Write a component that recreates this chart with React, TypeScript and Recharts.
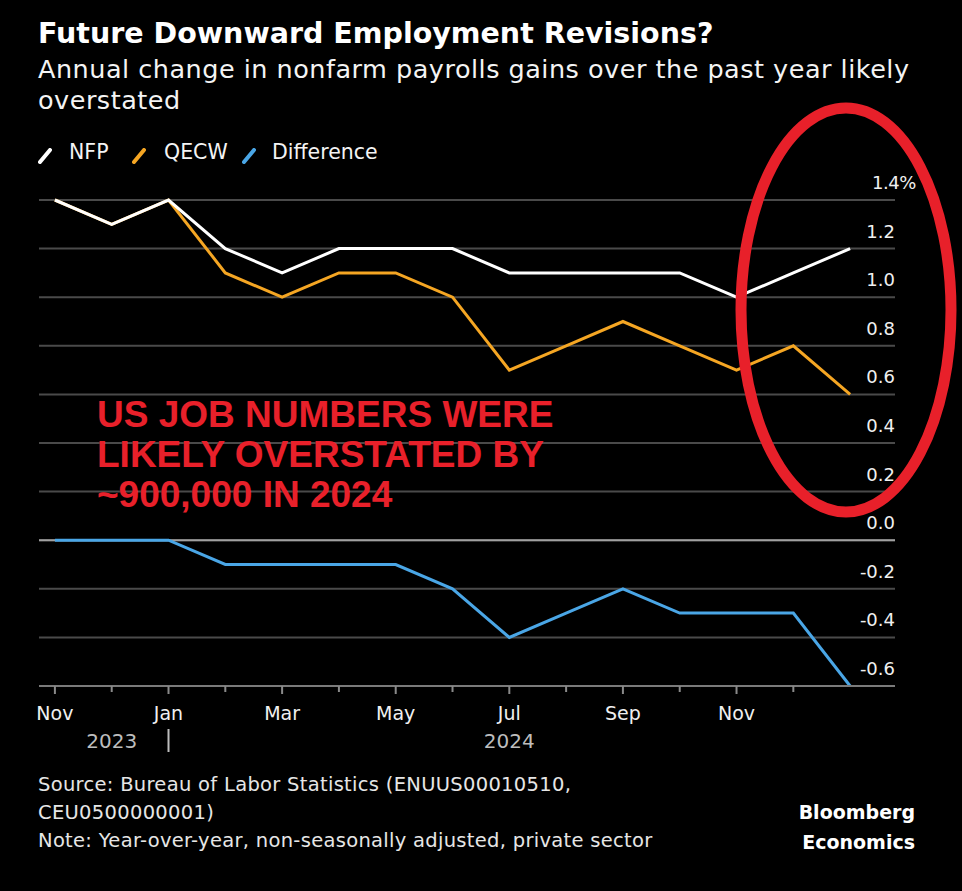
import { LineChart, Line, XAxis, YAxis, CartesianGrid, ReferenceLine } from "recharts";

// monthly points, Nov 2023 .. Jan 2025
const months = ["Nov", "Dec", "Jan", "Feb", "Mar", "Apr", "May", "Jun", "Jul", "Aug", "Sep", "Oct", "Nov", "Dec", "Jan"];
const nfp = [1.4, 1.3, 1.4, 1.2, 1.1, 1.2, 1.2, 1.2, 1.1, 1.1, 1.1, 1.1, 1.0, 1.1, 1.2];
const qcew = [1.4, 1.3, 1.4, 1.1, 1.0, 1.1, 1.1, 1.0, 0.7, 0.8, 0.9, 0.8, 0.7, 0.8, 0.6];
const difference = [0, 0, 0, -0.1, -0.1, -0.1, -0.1, -0.2, -0.4, -0.3, -0.2, -0.3, -0.3, -0.3, -0.6];

const yTicks = [-0.6, -0.4, -0.2, 0, 0.2, 0.4, 0.6, 0.8, 1.0, 1.2, 1.4];
const xTicks = [0, 1, 2, 3, 4, 5, 6, 7, 8, 9, 10, 11, 12, 13];
const yearLabels = [
  { at: 1, label: "2023" },
  { at: 8, label: "2024" },
];
const yearDivider = 2;

const data = months.map((month, i) => ({
  i,
  month,
  nfp: nfp[i],
  qcew: qcew[i],
  difference: difference[i],
}));

const WHITE = "#ffffff";
const ORANGE = "#f5a623";
const BLUE = "#4aa6e6";
const RED = "#e8202a";
const FONT = "'DejaVu Sans', Verdana, sans-serif";
const PLOT_RIGHT = 895;
const Y_AXIS_W = 60;

function YTick({ y, payload }: any) {
  const v: number = payload.value;
  const label = v === 0 ? "0.0" : v.toFixed(1);
  const isTop = v === yTicks[yTicks.length - 1];
  // top label carries the unit and hangs past the right edge
  if (isTop) {
    return (
      <text x={PLOT_RIGHT - 23} y={y - 11} fill="#f0f0f0" fontSize={18} fontFamily={FONT} letterSpacing={-0.5}>
        {label + "%"}
      </text>
    );
  }
  return (
    <text x={PLOT_RIGHT} y={y - 11} textAnchor="end" fill="#f0f0f0" fontSize={18} fontFamily={FONT}>
      {label}
    </text>
  );
}

function XTick({ x, y, payload }: any) {
  const idx: number = payload.value;
  const major = idx % 2 === 0;
  const year = yearLabels.find((d) => d.at === idx);
  return (
    <g>
      <line x1={x} x2={x} y1={y} y2={y + (major ? 8 : 6)} stroke="#8a8a8a" strokeWidth={2} />
      {major && (
        <text x={x} y={y + 34} textAnchor="middle" fill="#f0f0f0" fontSize={19} fontFamily={FONT}>
          {months[idx]}
        </text>
      )}
      {year && (
        <text x={x} y={y + 62} textAnchor="middle" fill="#bdbdbd" fontSize={20} fontFamily={FONT}>
          {year.label}
        </text>
      )}
      {idx === yearDivider && <line x1={x} x2={x} y1={y + 43} y2={y + 66} stroke="#bdbdbd" strokeWidth={2} />}
    </g>
  );
}

const legendItems = [
  { color: WHITE, label: "NFP", iconX: 40, textX: 69 },
  { color: ORANGE, label: "QECW", iconX: 134, textX: 164 },
  { color: BLUE, label: "Difference", iconX: 244, textX: 272 },
];

export default function App() {
  return (
    <div
      style={{
        position: "absolute",
        left: 0,
        top: 0,
        width: 962,
        height: 891,
        background: "#000",
        overflow: "hidden",
        fontFamily: FONT,
        color: "#f4f4f4",
      }}
    >
      <LineChart
        width={962}
        height={891}
        data={data}
        margin={{ top: 200, left: 39, right: 962 - PLOT_RIGHT - Y_AXIS_W, bottom: 145 }}
      >
        <CartesianGrid horizontal vertical={false} stroke="#4a4a4a" strokeWidth={2} />
        <XAxis
          dataKey="i"
          type="number"
          domain={[-0.28, 14.79]}
          ticks={xTicks}
          interval={0}
          height={60}
          tickSize={0}
          tickMargin={0}
          axisLine={{ stroke: "#7a7a7a", strokeWidth: 2 }}
          tickLine={false}
          tick={<XTick />}
        />
        <YAxis
          orientation="right"
          width={Y_AXIS_W}
          domain={[-0.6, 1.4]}
          ticks={yTicks}
          interval={0}
          axisLine={false}
          tickLine={false}
          tick={<YTick />}
        />
        <ReferenceLine y={0} stroke="#a0a0a0" strokeWidth={2} />
        <Line type="linear" dataKey="difference" stroke={BLUE} strokeWidth={3} dot={false} isAnimationActive={false} />
        <Line type="linear" dataKey="qcew" stroke={ORANGE} strokeWidth={3} dot={false} isAnimationActive={false} />
        <Line type="linear" dataKey="nfp" stroke={WHITE} strokeWidth={3} dot={false} isAnimationActive={false} />
      </LineChart>

      <div style={{ position: "absolute", left: 38, top: 17, fontSize: 28.5, fontWeight: 700, color: "#fff", whiteSpace: "nowrap" }}>
        Future Downward Employment Revisions?
      </div>
      <div
        style={{
          position: "absolute",
          left: 38,
          top: 54,
          width: 924,
          fontSize: 25.5,
          letterSpacing: 0.5,
          lineHeight: "31px",
          whiteSpace: "nowrap",
        }}
      >
        Annual change in nonfarm payrolls gains over the past year likely
        <br />
        overstated
      </div>
      {legendItems.map((d) => (
        <div key={d.label}>
          <svg width={14} height={16} style={{ position: "absolute", left: d.iconX - 2, top: 148 }}>
            <line x1={2} y1={14} x2={12} y2={2} stroke={d.color} strokeWidth={4} strokeLinecap="round" />
          </svg>
          <span style={{ position: "absolute", left: d.textX, top: 140, fontSize: 20.5, whiteSpace: "nowrap" }}>{d.label}</span>
        </div>
      ))}

      <div
        style={{
          position: "absolute",
          left: 97,
          top: 395,
          fontFamily: "'Liberation Sans', Arial, sans-serif",
          fontWeight: 700,
          fontSize: 37,
          lineHeight: "40px",
          color: RED,
          whiteSpace: "nowrap",
        }}
      >
        US JOB NUMBERS WERE
        <br />
        LIKELY OVERSTATED BY
        <br />
        ~900,000 IN 2024
      </div>

      <svg width={962} height={891} style={{ position: "absolute", left: 0, top: 0, pointerEvents: "none" }}>
        <ellipse cx={846} cy={310} rx={105} ry={202} fill="none" stroke={RED} strokeWidth={11} />
      </svg>

      <div
        style={{
          position: "absolute",
          left: 38,
          top: 771,
          fontSize: 19.5,
          letterSpacing: 0.3,
          lineHeight: "28px",
          color: "#e6e6e6",
          whiteSpace: "nowrap",
        }}
      >
        Source: Bureau of Labor Statistics (ENUUS00010510,
        <br />
        CEU0500000001)
        <br />
        Note: Year-over-year, non-seasonally adjusted, private sector
      </div>
      <div
        style={{
          position: "absolute",
          right: 962 - 915,
          top: 797,
          fontSize: 19,
          fontWeight: 700,
          lineHeight: "30px",
          textAlign: "right",
          color: "#fff",
        }}
      >
        Bloomberg
        <br />
        Economics
      </div>
    </div>
  );
}
